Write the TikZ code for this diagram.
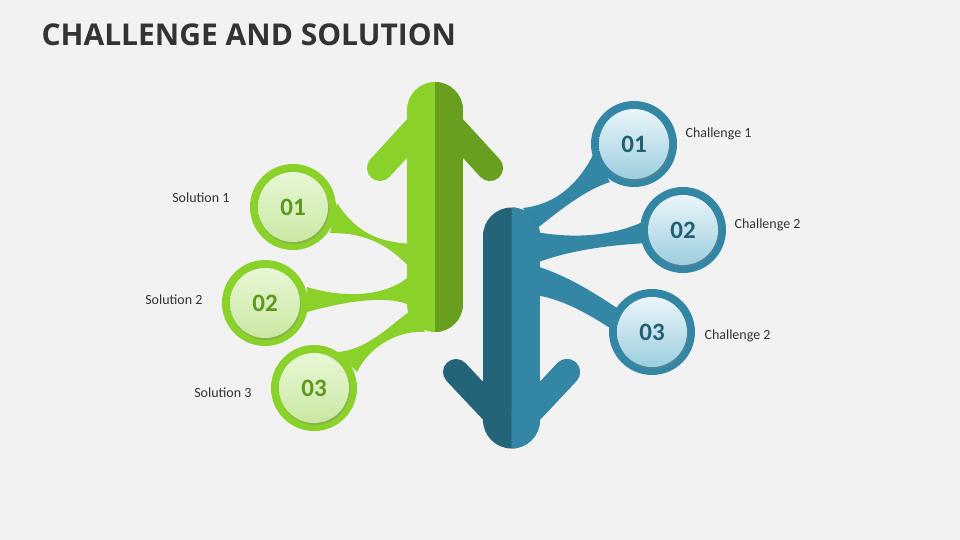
\documentclass[tikz,border=0pt]{standalone}
\usepackage{fontspec}
\setmainfont{Carlito}
\newfontfamily\titlefont{Open Sans}
\usetikzlibrary{shadows}
\definecolor{bg}{HTML}{F2F2F2}
\definecolor{gL}{HTML}{8AD12A}
\definecolor{gD}{HTML}{689F1F}
\definecolor{bL}{HTML}{3387A5}
\definecolor{bD}{HTML}{246478}
\definecolor{gT}{HTML}{E8F7D6}
\definecolor{gB}{HTML}{C9E8A2}
\definecolor{bT}{HTML}{EAF5F9}
\definecolor{bB}{HTML}{9CCEDF}
\definecolor{gNum}{HTML}{5E971D}
\definecolor{bNum}{HTML}{225F73}
\definecolor{txt}{HTML}{333333}
\tikzset{
 lbl/.style={font=\fontsize{14}{16}\selectfont, text=txt},
 numtxt/.style={font=\fontsize{25}{28}\selectfont\bfseries},
 ring/.style={circle, minimum size=86pt, inner sep=0pt},
 disc/.style={circle, minimum size=70pt, inner sep=0pt, drop shadow={shadow xshift=1pt, shadow yshift=-2pt, opacity=0.35}},
}
\begin{document}
\begin{tikzpicture}[x=1pt,y=-1pt]
\fill[bg] (0,0) rectangle (960,540);
\useasboundingbox (0,0) rectangle (960,540);
\node[anchor=west, font=\titlefont\bfseries\fontsize{30}{34}\selectfont, text=txt] (title) at (38,35) {CHALLENGE AND SOLUTION};
% green connectors
\fill[gL] (337,203) .. controls (360,238) and (385,242) .. (412,244) -- (412,270) .. controls (385,240) and (360,233) .. (330,233) -- cycle;
\fill[gL] (307,287) .. controls (350,300) and (390,295) .. (412,274) -- (412,306) .. controls (390,295) and (350,300) .. (307,312) -- cycle;
\fill[gL] (337,352) .. controls (370,350) and (395,320) .. (412,310) -- (425,332) .. controls (400,330) and (370,345) .. (357,372) -- cycle;
% blue connectors
\fill[bL] (593,155) .. controls (575,190) and (550,205) .. (523,208) -- (535,230) .. controls (560,210) and (585,190) .. (610,182) -- cycle;
\fill[bL] (647,220) .. controls (610,238) and (570,238) .. (536,232) -- (536,263) .. controls (570,250) and (610,245) .. (648,243) -- cycle;
\fill[bL] (617,308) .. controls (590,290) and (565,275) .. (536,266) -- (536,295) .. controls (565,300) and (590,315) .. (613,330) -- cycle;
% green arrow
\begin{scope}[line cap=round, line join=round]
\draw[gL, line width=56pt] (435,110) -- (435,304);
\draw[gL, line width=26pt] (380,168) -- (435,108) -- (490,168);
\begin{scope}
\clip (435,0) rectangle (520,400);
\draw[gD, line width=56pt] (435,110) -- (435,304);
\draw[gD, line width=26pt] (380,168) -- (435,108) -- (490,168);
\end{scope}
% blue arrow
\draw[bD, line width=57pt] (511.5,236) -- (511.5,420);
\draw[bD, line width=26pt] (456,372) -- (511.5,431) -- (567,372);
\begin{scope}
\clip (511.5,150) rectangle (600,470);
\draw[bL, line width=57pt] (511.5,236) -- (511.5,420);
\draw[bL, line width=26pt] (456,372) -- (511.5,431) -- (567,372);
\end{scope}
\end{scope}
% circles
\foreach \n/\x/\y/\t in {s1/293/207/01, s2/265/303/02, s3/314/388/03}{
 \node[ring, fill=gL] (\n r) at (\x,\y) {};
 \node[disc, top color=gT, bottom color=gB, text=gNum, numtxt] (\n) at (\x,\y) {\t};
}
\foreach \n/\x/\y/\t in {c1/634/144/01, c2/683/230/02, c3/652/332/03}{
 \node[ring, fill=bL] (\n r) at (\x,\y) {};
 \node[disc, top color=bT, bottom color=bB, text=bNum, numtxt] (\n) at (\x,\y) {\t};
}
% labels
\node[lbl, anchor=east] (ls1) at (233,198) {Solution 1};
\node[lbl, anchor=east] (ls2) at (206,300) {Solution 2};
\node[lbl, anchor=east] (ls3) at (255,393) {Solution 3};
\node[lbl, anchor=west] (lc1) at (682,134) {Challenge 1};
\node[lbl, anchor=west] (lc2) at (731,225) {Challenge 2};
\node[lbl, anchor=west] (lc3) at (701,336) {Challenge 2};
\end{tikzpicture}
\end{document}
